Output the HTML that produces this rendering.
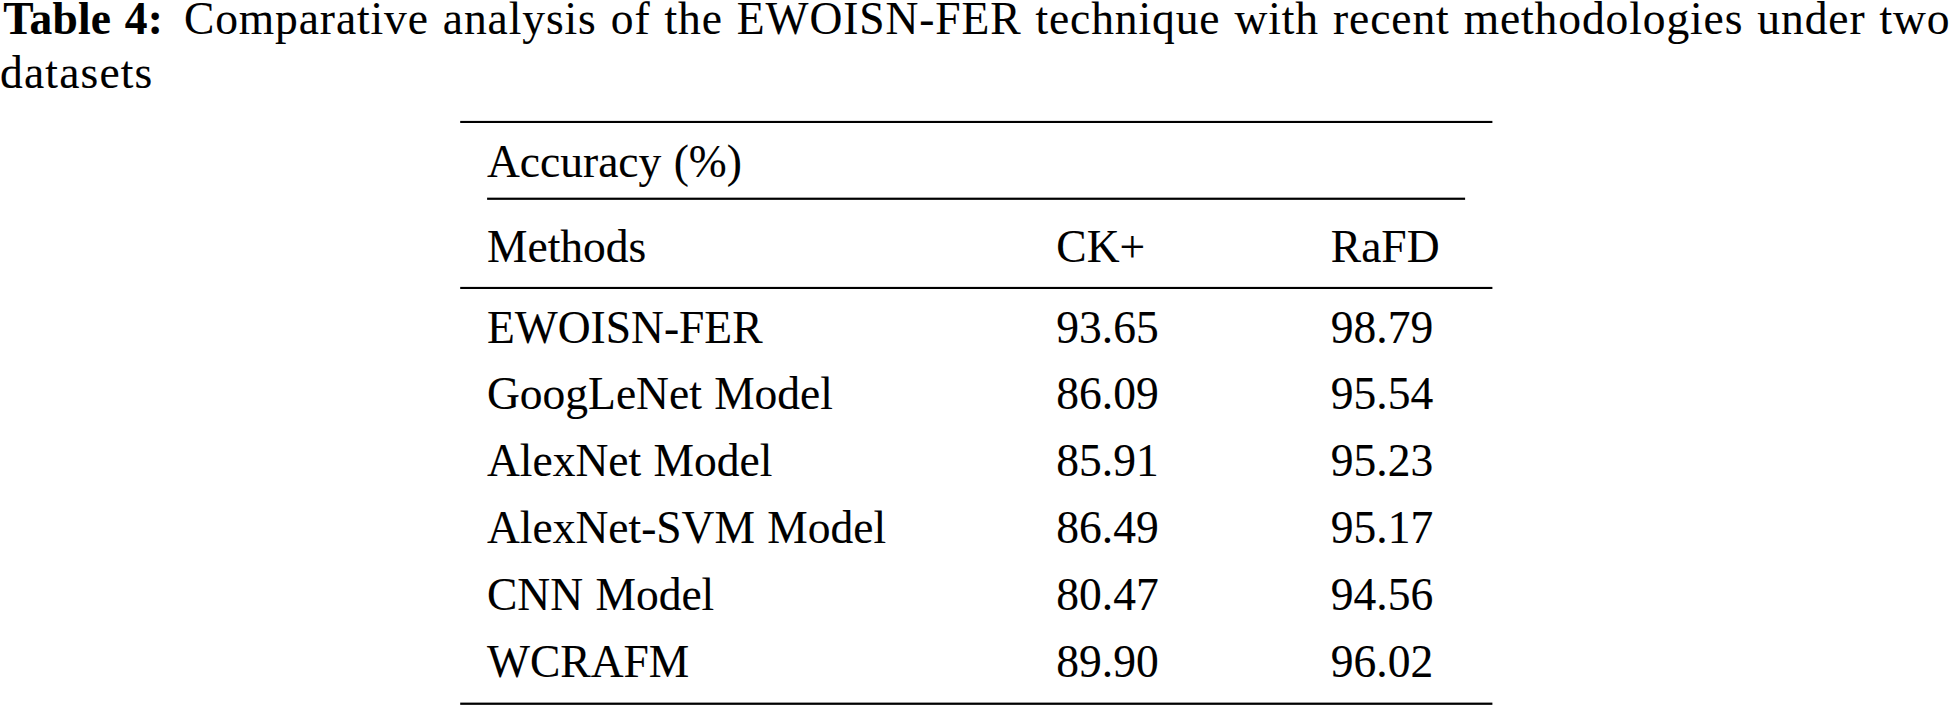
<!DOCTYPE html>
<html><head><meta charset="utf-8">
<style>
html,body{margin:0;padding:0;background:#fff;}
body{width:1951px;height:708px;position:relative;overflow:hidden;font-family:"Liberation Serif","Times New Roman",serif;color:#000;font-size:45.5px;line-height:1;}
.t{position:absolute;word-spacing:1px;white-space:pre;line-height:1;-webkit-text-stroke:0.1px #000;}
svg{position:absolute;left:0;top:0;}
</style></head><body>
<div class="t" style="left:3.2px;top:-4.1px;letter-spacing:0.2px;word-spacing:2px;font-weight:bold;">Table 4:</div>
<div class="t" style="left:183.9px;top:-4.1px;letter-spacing:0.9px;word-spacing:1.8px;">Comparative analysis of the EWOISN-FER technique with recent methodologies under two</div>
<div class="t" style="left:0.05px;top:49.95px;letter-spacing:1.17px;">datasets</div>
<svg width="1951" height="708" viewBox="0 0 1951 708">
<rect x="460.2" y="120.9" width="1032.2" height="2.1" fill="#000"/>
<rect x="487.1" y="197.65" width="978" height="2.2" fill="#000"/>
<rect x="460.2" y="286.9" width="1032.2" height="2.1" fill="#000"/>
<rect x="460.2" y="702.6" width="1032.2" height="2.25" fill="#000"/>
</svg>
<div class="t" style="left:487px;top:138.5px;">Accuracy (%)</div>
<div class="t" style="left:487px;top:224.3px;">Methods</div>
<div class="t" style="left:1056.3px;top:224.3px;">CK+</div>
<div class="t" style="left:1330.8px;top:224.3px;">RaFD</div>
<div class="t" style="left:487px;top:304.5px;">EWOISN-FER</div>
<div class="t" style="left:1056.3px;top:304.5px;">93.65</div>
<div class="t" style="left:1330.8px;top:304.5px;">98.79</div>
<div class="t" style="left:487px;top:371.4px;">GoogLeNet Model</div>
<div class="t" style="left:1056.3px;top:371.4px;">86.09</div>
<div class="t" style="left:1330.8px;top:371.4px;">95.54</div>
<div class="t" style="left:487px;top:438.3px;">AlexNet Model</div>
<div class="t" style="left:1056.3px;top:438.3px;">85.91</div>
<div class="t" style="left:1330.8px;top:438.3px;">95.23</div>
<div class="t" style="left:487px;top:505.2px;">AlexNet-SVM Model</div>
<div class="t" style="left:1056.3px;top:505.2px;">86.49</div>
<div class="t" style="left:1330.8px;top:505.2px;">95.17</div>
<div class="t" style="left:487px;top:572.1px;">CNN Model</div>
<div class="t" style="left:1056.3px;top:572.1px;">80.47</div>
<div class="t" style="left:1330.8px;top:572.1px;">94.56</div>
<div class="t" style="left:487px;top:639.0px;">WCRAFM</div>
<div class="t" style="left:1056.3px;top:639.0px;">89.90</div>
<div class="t" style="left:1330.8px;top:639.0px;">96.02</div>
</body></html>
